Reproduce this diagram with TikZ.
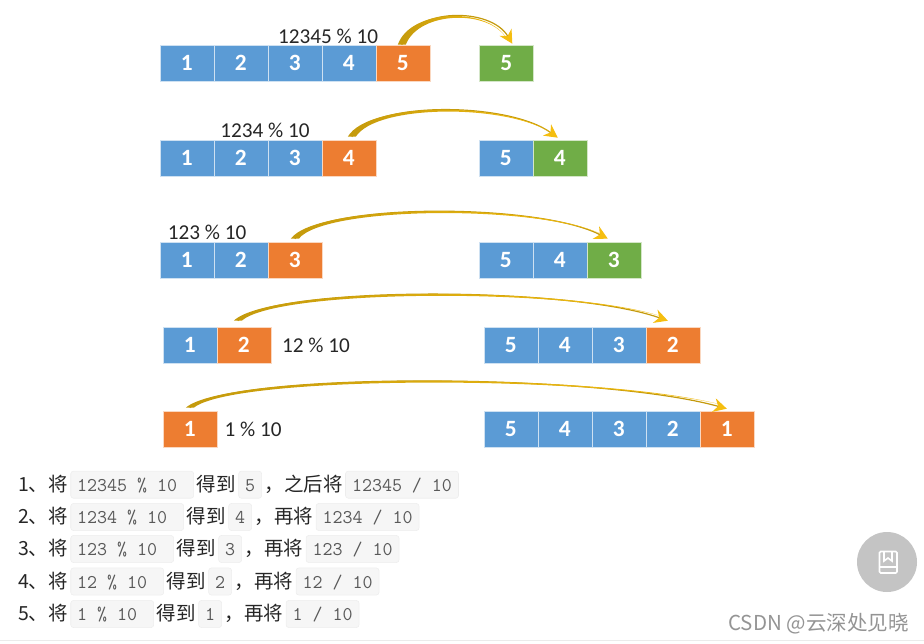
\documentclass[tikz,border=0pt]{standalone}
\usepackage{fontspec}
\usepackage{xcolor}
\usetikzlibrary{positioning, arrows.meta, calc}
\newfontfamily\cjkfont{Noto Sans CJK SC}
\newfontfamily\cellfont{Carlito}
\definecolor{accBlue}{HTML}{5B9BD5}
\definecolor{accOrange}{HTML}{ED7D31}
\definecolor{accGreen}{HTML}{70AD47}
\definecolor{accGold}{HTML}{F5BE10}
\definecolor{accDark}{HTML}{C49A0C}
\newcommand{\swoop}[4]{%
  \draw[arr] (#1) .. controls +#3 and +#4 .. (#2);
  \path[left color=accDark, right color=accGold]
    ($(#1)+(-4,0)$) .. controls ($(#1)+#3+(-3,0)$) and ($(#2)+#4$) .. ($(#2)+(-5,-4)$)
    .. controls ($(#2)+#4+(0,2)$) and ($(#1)+#3+(5,3)$) .. ($(#1)+(4,0)$) -- cycle;}
\begin{document}
\begin{tikzpicture}[
        x=0.75pt, y=-0.75pt, node distance=0pt,
        cell/.style={draw=white!70!accBlue, line width=0.3pt, outer sep=0pt, inner sep=0pt, minimum width=40.5pt, minimum height=27pt,
          text=white, font=\cellfont\bfseries\fontsize{17.5}{20}\selectfont},
        bl/.style={cell, fill=accBlue},
        og/.style={cell, fill=accOrange, draw=white!70!accOrange},
        gr/.style={cell, fill=accGreen, draw=white!70!accGreen},
        calc/.style={text=black!85, inner sep=0pt, font=\cellfont\fontsize{15.9}{18}\selectfont},
        txt/.style={inner xsep=0pt, inner ysep=3.4pt, outer sep=0pt, text height=11.75pt, text depth=1.75pt, text=black!85,
          font=\cjkfont\fontsize{14.6}{16}\selectfont},
        code/.style={txt, draw=black!7, fill=black!3.5, rounded corners=2pt, inner xsep=4.875pt, line width=0.4pt, text=black!65,
          font=\ttfamily\fontsize{14.56}{16}\selectfont},
        arr/.style={-{Stealth[length=10pt, width=10.5pt, color=accGold, fill=accGold]}, line width=0.9pt, draw=accDark}]
        \useasboundingbox (0,0) rectangle (924,643);
        % first row
        \node[bl] (a1) at (186.8,62.7) {1};
        \node[bl, right=of a1] (a2) {2};
        \node[bl, right=of a2] (a3) {3};
        \node[bl, right=of a3] (a4) {4};
        \node[og, right=of a4] (a5) {5};
        \node[gr] (ar1) at (506.3,62.7) {5};
        \node[calc] (acalc) at (328,36) {12345 \% 10};
        % second row
        \node[bl] (b1) at (186.8,157.7) {1};
        \node[bl, right=of b1] (b2) {2};
        \node[bl, right=of b2] (b3) {3};
        \node[og, right=of b3] (b4) {4};
        \node[bl] (br1) at (505.8,157.7) {5};
        \node[gr, right=of br1] (br2) {4};
        \node[calc] (bcalc) at (265,130) {1234 \% 10};
        % third row
        \node[bl] (c1) at (186.8,259.7) {1};
        \node[bl, right=of c1] (c2) {2};
        \node[og, right=of c2] (c3) {3};
        \node[bl] (cr1) at (505.8,259.7) {5};
        \node[bl, right=of cr1] (cr2) {4};
        \node[gr, right=of cr2] (cr3) {3};
        \node[calc] (ccalc) at (207,232) {123 \% 10};
        % fourth row
        \node[bl] (d1) at (189.8,344.7) {1};
        \node[og, right=of d1] (d2) {2};
        \node[bl] (dr1) at (510.8,344.7) {5};
        \node[bl, right=of dr1] (dr2) {4};
        \node[bl, right=of dr2] (dr3) {3};
        \node[og, right=of dr3] (dr4) {2};
        \node[calc] (dcalc) at (316,345) {12 \% 10};
        % fifth row
        \node[og] (e1) at (189.8,428.7) {1};
        \node[bl] (er1) at (510.8,428.7) {5};
        \node[bl, right=of er1] (er2) {4};
        \node[bl, right=of er2] (er3) {3};
        \node[bl, right=of er3] (er4) {2};
        \node[og, right=of er4] (er5) {1};
        \node[calc] (ecalc) at (253,429) {1 \% 10};
        % ends of the arcs
        \coordinate (sa) at ($(a5.north)+(-1,0)$);  \coordinate (ta) at ($(ar1.north)+(6,-1)$);
        \coordinate (sb) at ($(b4.north)+(3,-3)$);  \coordinate (tb) at ($(br2.north)+(-2,-2)$);
        \coordinate (sc) at ($(c3.north)+(0,-3)$);  \coordinate (tc) at ($(cr3.north)+(-6,-3)$);
        \coordinate (sd) at ($(d2.north)+(-6,-6)$); \coordinate (td) at ($(dr4.north)+(-5,-6)$);
        \coordinate (se) at ($(e1.north)+(0,-3)$);  \coordinate (te) at ($(er5.north)+(0,-2)$);
        \swoop{sa}{ta}{(12,-37)}{(-22,-37)}
        \swoop{sb}{tb}{(20,-36)}{(-50,-36)}
        \swoop{sc}{tc}{(25,-36)}{(-70,-36)}
        \swoop{sd}{td}{(35,-35)}{(-100,-35)}
        \swoop{se}{te}{(40,-36)}{(-130,-36)}
        % lines of text
        \node[txt, anchor=west] (la) at (18,484.7) {1、将};
        \node[code, right=2.25pt of la] (la1) {12345 \% 10\phantom{0}};
        \node[txt, right=2.25pt of la1] (la2) {得到};
        \node[code, right=2.25pt of la2] (la3) {5};
        \node[txt, right=2.25pt of la3] (la4) {，之后将};
        \node[code, right=2.25pt of la4] (la5) {12345 / 10};
        \node[txt, anchor=west] (lb) at (18,517) {2、将};
        \node[code, right=2.25pt of lb] (lb1) {1234 \% 10\phantom{0}};
        \node[txt, right=2.25pt of lb1] (lb2) {得到};
        \node[code, right=2.25pt of lb2] (lb3) {4};
        \node[txt, right=2.25pt of lb3] (lb4) {，再将};
        \node[code, right=2.25pt of lb4] (lb5) {1234 / 10};
        \node[txt, anchor=west] (lc) at (18,549) {3、将};
        \node[code, right=2.25pt of lc] (lc1) {123 \% 10\phantom{0}};
        \node[txt, right=2.25pt of lc1] (lc2) {得到};
        \node[code, right=2.25pt of lc2] (lc3) {3};
        \node[txt, right=2.25pt of lc3] (lc4) {，再将};
        \node[code, right=2.25pt of lc4] (lc5) {123 / 10};
        \node[txt, anchor=west] (ld) at (18,581.5) {4、将};
        \node[code, right=2.25pt of ld] (ld1) {12 \% 10\phantom{0}};
        \node[txt, right=2.25pt of ld1] (ld2) {得到};
        \node[code, right=2.25pt of ld2] (ld3) {2};
        \node[txt, right=2.25pt of ld3] (ld4) {，再将};
        \node[code, right=2.25pt of ld4] (ld5) {12 / 10};
        \node[txt, anchor=west] (le) at (18,614) {5、将};
        \node[code, right=2.25pt of le] (le1) {1 \% 10\phantom{0}};
        \node[txt, right=2.25pt of le1] (le2) {得到};
        \node[code, right=2.25pt of le2] (le3) {1};
        \node[txt, right=2.25pt of le3] (le4) {，再将};
        \node[code, right=2.25pt of le4] (le5) {1 / 10};
        % bookmark button and watermark
        \node[circle, fill=black!23, minimum size=45pt, inner sep=0pt] (fab) at (887,562) {};
        \draw[white, line width=1.2pt, rounded corners=1pt] (879.5,573) -- (879.5,551.5) -- (897,551.5) -- (897,573) -- cycle;
        \draw[white, line width=1.2pt] (879.5,567) -- (897,567);
        \draw[white, line width=1.2pt] (884,551.5) -- (884,561) -- (888,558) -- (892,561) -- (892,551.5);
        \node[anchor=west, inner sep=0pt, text=black!42, font=\cjkfont\fontsize{15.4}{17}\selectfont] (mark) at (728,624) {CSDN @云深处见晓};
        \draw[black!8, line width=0.6pt] (0,640) -- (924,640);
      \end{tikzpicture}
\end{document}
